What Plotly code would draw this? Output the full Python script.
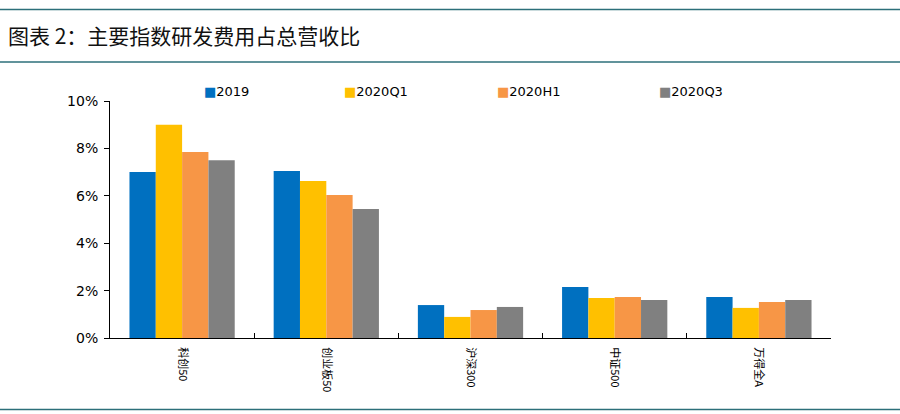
import plotly.graph_objects as go

categories = ["科创50", "创业板50", "沪深300", "中证500", "万得全A"]
series_names = ["2019", "2020Q1", "2020H1", "2020Q3"]
v2019 = [7.0, 7.05, 1.39, 2.15, 1.73]
v2020q1 = [9.0, 6.62, 0.89, 1.69, 1.27]
v2020h1 = [7.85, 6.03, 1.18, 1.73, 1.52]
v2020q3 = [7.5, 5.44, 1.31, 1.60, 1.60]
colors = ["#0070C0", "#FFC000", "#F79646", "#808080"]
ytick_vals = [0, 2, 4, 6, 8, 10]
ytick_text = ["0%", "2%", "4%", "6%", "8%", "10%"]
title_text = "图表 2：主要指数研发费用占总营收比"

W, H = 900, 414
L, R, T, B = 110, 69, 101, 76
pw, ph = W - L - R, H - T - B

def px_to_paper_y(py):
    return (H - B - py) / ph

def px_to_paper_x(pxv):
    return (pxv - L) / pw

legend_px = [202, 342, 495, 657]

fig = go.Figure()
for name, vals, c in zip(series_names, [v2019, v2020q1, v2020h1, v2020q3], colors):
    fig.add_trace(go.Bar(name=name, x=categories, y=[v / 100 for v in vals],
                         marker=dict(color=c, line=dict(width=0)), showlegend=False))

shapes = []
for py, w in [(9.5, 1.5), (62, 1.5), (409.5, 1.5)]:
    shapes.append(dict(type="line", xref="paper", yref="paper",
                       x0=px_to_paper_x(0), x1=px_to_paper_x(W),
                       y0=px_to_paper_y(py), y1=px_to_paper_y(py),
                       line=dict(color="#2C6F7A", width=w)))

annotations = [dict(text=title_text, xref="paper", yref="paper",
                    x=px_to_paper_x(6), y=px_to_paper_y(35),
                    xanchor="left", yanchor="middle", showarrow=False,
                    font=dict(family="Noto Sans CJK SC", size=21, color="#111111"))]
for name, c, lx in zip(series_names, colors, legend_px):
    annotations.append(dict(
        text=f'<span style="color:{c}">■</span>{name}',
        xref="paper", yref="paper", x=px_to_paper_x(lx), y=px_to_paper_y(91),
        xanchor="left", yanchor="middle", showarrow=False,
        font=dict(family="DejaVu Sans", size=13, color="#000000")))

fig.update_layout(
    width=W, height=H,
    margin=dict(l=L, r=R, t=T, b=B, autoexpand=False),
    paper_bgcolor="white", plot_bgcolor="white",
    barmode="group", bargap=0.27, bargroupgap=0,
    font=dict(family="DejaVu Sans", size=13, color="#000000"),
    showlegend=False,
    shapes=shapes,
    annotations=annotations,
    xaxis=dict(showline=True, linecolor="#000000", linewidth=1,
               ticks="inside", tickson="boundaries", ticklen=5, tickcolor="#000000",
               tickangle=90, tickfont=dict(family="Noto Sans CJK SC", size=11),
               ticklabelstandoff=6,
               showgrid=False, zeroline=False, automargin=False),
    yaxis=dict(range=[0, 0.10], tickvals=[v / 100 for v in ytick_vals], ticktext=ytick_text,
               showline=True, linecolor="#000000", linewidth=1,
               ticks="outside", ticklen=5, tickcolor="#000000",
               showgrid=False, zeroline=False, automargin=False,
               ticklabelstandoff=3,
               tickfont=dict(family="DejaVu Sans", size=14)),
)

fig.write_html("out.html", config={"displayModeBar": False},
               post_script="document.body.style.margin='0';")
